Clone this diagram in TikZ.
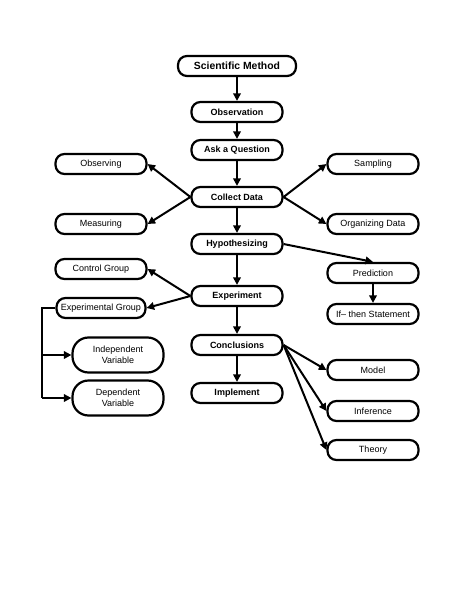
\documentclass[tikz,border=0pt]{standalone}
\usepackage{fontspec}
\setmainfont{Liberation Sans}
\usetikzlibrary{arrows.meta}
\begin{document}
\begin{tikzpicture}[x=1pt,y=-1pt,
 box/.style={draw, line width=2.2pt, rounded corners=9pt, minimum width=91pt, minimum height=20pt, inner sep=0pt, font=\fontsize{9}{11}\selectfont, align=center},
 main/.style={box, font=\bfseries\fontsize{9}{11}\selectfont},
 tall/.style={box, minimum height=35pt, rounded corners=16pt},
 arr/.style={line width=2pt, -{Triangle[length=7.5pt,width=7.5pt]}},
 seg/.style={line width=2pt},
]
\useasboundingbox[fill=white] (0,0) rectangle (474,613);
% main column
\node[main, minimum width=118pt, font=\bfseries\fontsize{10.4}{12}\selectfont] (sm) at (237,66) {Scientific Method};
\node[main] (obs) at (237,112) {Observation};
\node[main] (ask) at (237,150) {Ask a Question};
\node[main] (col) at (237,197) {Collect Data};
\node[main] (hyp) at (237,244) {Hypothesizing};
\node[main] (exp) at (237,296) {Experiment};
\node[main] (con) at (237,345) {Conclusions};
\node[main] (imp) at (237,393) {Implement};
% left
\node[box] (obsv) at (101,164) {Observing};
\node[box] (meas) at (101,224) {Measuring};
\node[box] (ctrl) at (101,269) {Control Group};
\node[box, minimum width=89pt] (expg) at (101,308) {Experimental Group};
\node[tall] (ind) at (118,355) {Independent\\Variable};
\node[tall] (dep) at (118,398) {Dependent\\Variable};
% right
\node[box] (samp) at (373,164) {Sampling};
\node[box] (org) at (373,224) {Organizing Data};
\node[box] (pred) at (373,273) {Prediction};
\node[box] (ifth) at (373,314) {If-- then Statement};
\node[box] (mod) at (373,370) {Model};
\node[box] (inf) at (373,411) {Inference};
\node[box] (the) at (373,450) {Theory};
% vertical arrows
\draw[arr] (sm) -- (obs);
\draw[arr] (obs) -- (ask);
\draw[arr] (ask) -- (col);
\draw[arr] (col) -- (hyp);
\draw[arr] (hyp) -- (exp);
\draw[arr] (exp) -- (con);
\draw[arr] (con) -- (imp);
\draw[arr] (pred) -- (ifth);
% branches
\draw[arr] (col.west) -- (obsv.east);
\draw[arr] (col.west) -- (meas.east);
\draw[arr] (col.east) -- (samp.west);
\draw[arr] (col.east) -- (org.west);
\draw[arr] (hyp.east) -- (pred.north);
\draw[arr] (exp.west) -- (ctrl.east);
\draw[arr] (exp.west) -- (expg.east);
\draw[arr] (con.east) -- (mod.west);
\draw[arr] (con.east) -- (inf.west);
\draw[arr] (con.east) -- (the.west);
% bracket
\coordinate (b1) at (42,308);
\coordinate (b2) at (42,355);
\coordinate (b3) at (42,398);
\draw[seg, line join=miter] (expg.west) -- (b1) -- (b3);
\draw[arr] (b2) -- (ind.west);
\draw[arr] (b3) -- (dep.west);
\end{tikzpicture}
\end{document}
